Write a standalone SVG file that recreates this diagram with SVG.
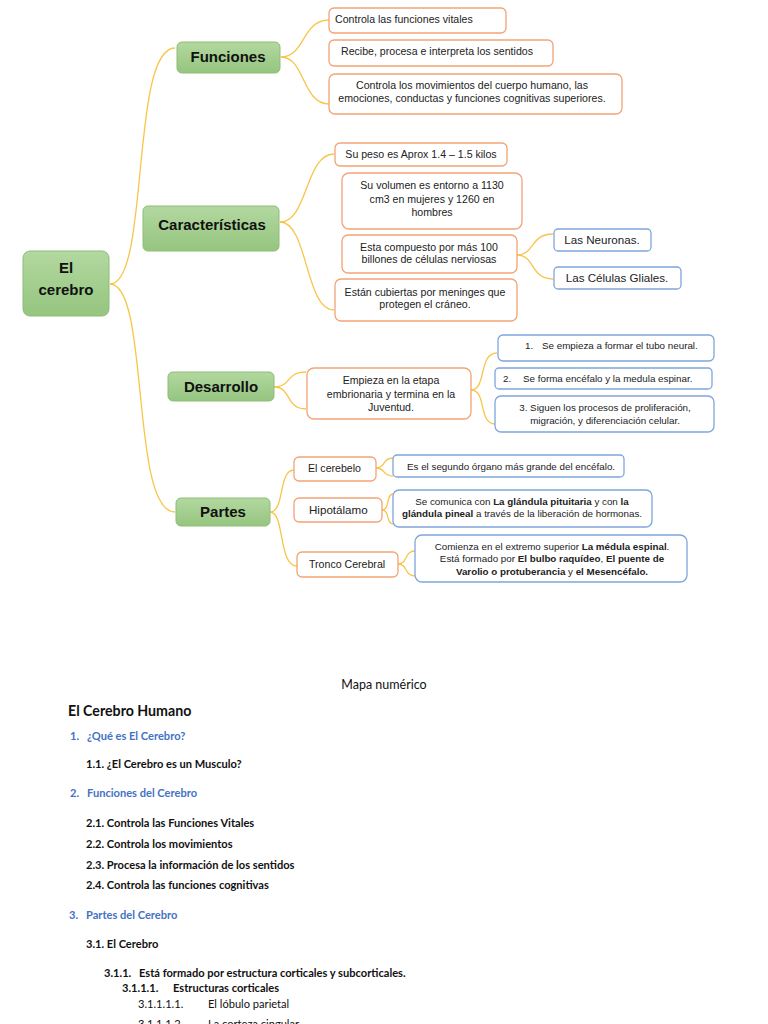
<svg xmlns="http://www.w3.org/2000/svg" width="768" height="1024" viewBox="0 0 768 1024">
<defs>
<linearGradient id="g" x1="0" y1="0" x2="0" y2="1">
<stop offset="0" stop-color="#b3d8a0"/>
<stop offset="1" stop-color="#95c57f"/>
</linearGradient>
<style>
.gn{fill:url(#g);stroke:#8dbd77;stroke-width:1}
.ob{fill:#fff;stroke:#f2a476;stroke-width:1.3}
.bb{fill:#fff;stroke:#7fa5dc;stroke-width:1.3}
.c{fill:none;stroke:#f8c54a;stroke-width:1.3}
.h{font-family:"Liberation Sans",Arial,sans-serif;font-weight:bold;font-size:15px;fill:#111;text-anchor:middle}
.t{font-family:"Liberation Sans",Arial,sans-serif;font-size:10.6px;fill:#222}
.ts{font-family:"Liberation Sans",Arial,sans-serif;font-size:9.8px;fill:#222}
.tm{text-anchor:middle}
.tl{font-family:"Liberation Sans",Arial,sans-serif;font-size:11.6px;fill:#222}
.b{font-weight:bold}
.d{font-family:Lato,"Liberation Sans",sans-serif;fill:#111;font-size:11.1px;font-weight:bold}
.big{font-size:14.2px}
.bl{fill:#4472c4}
.r{font-weight:normal}
</style>
</defs>
<rect width="768" height="1024" fill="#fff"/>

<g id="connectors">
<path class="c" d="M110,284 C150,284 130,48 175,48"/>
<path class="c" d="M110,284 C150,284 130,512 175,512"/>
<path class="c" d="M281,57 C305,57 302,20 329,20"/>
<path class="c" d="M281,57 C305,57 302,104 329,104"/>
<path class="c" d="M280,222 C308,222 305,154 334,154"/>
<path class="c" d="M280,222 C308,222 305,310 334,310"/>
<path class="c" d="M517,255 C535,255 530,234 553,234"/>
<path class="c" d="M517,255 C535,255 530,279 553,279"/>
<path class="c" d="M274,387 C292,387 285,372 306,372"/>
<path class="c" d="M274,387 C292,387 285,409 306,409"/>
<path class="c" d="M471,390 C487,390 478,353 497,353"/>
<path class="c" d="M471,390 C487,390 478,424 495,424"/>
<path class="c" d="M270,512 C285,512 278,470 294,470"/>
<path class="c" d="M270,512 C285,512 278,566 297,566"/>
<path class="c" d="M376,468 C386,468 382,458 393,458"/>
<path class="c" d="M376,468 C386,468 382,476 393,476"/>
<path class="c" d="M382,510 C390,510 386,494 393,494"/>
<path class="c" d="M382,510 C390,510 386,524 393,524"/>
<path class="c" d="M398,564 C408,564 404,551 415,551"/>
<path class="c" d="M398,564 C408,564 404,576 415,576"/>
</g>

<g id="el-cerebro">
<rect class="gn" x="23" y="251" width="86" height="65" rx="7"/>
<text class="h" x="66" y="273">El</text>
<text class="h" x="66" y="295">cerebro</text>
</g>
<g id="funciones">
<rect class="gn" x="177" y="42" width="103" height="31" rx="5"/>
<text class="h" x="228" y="62">Funciones</text>
</g>
<g id="caracteristicas">
<rect class="gn" x="143" y="206" width="136" height="45" rx="5"/>
<text class="h" x="212" y="230">Características</text>
</g>
<g id="desarrollo">
<rect class="gn" x="168" y="372" width="106" height="29" rx="5"/>
<text class="h" x="221" y="392">Desarrollo</text>
</g>
<g id="partes">
<rect class="gn" x="176" y="498" width="94" height="28" rx="5"/>
<text class="h" x="223" y="517">Partes</text>
</g>

<g id="f1">
<rect class="ob" x="329" y="8" width="177" height="25" rx="5"/>
<text class="t" x="335" y="23">Controla las funciones vitales</text>
</g>
<g id="f2">
<rect class="ob" x="329" y="40" width="224" height="26" rx="5"/>
<text class="t" x="341" y="55">Recibe, procesa e interpreta los sentidos</text>
</g>
<g id="f3">
<rect class="ob" x="329" y="74" width="293" height="40" rx="6"/>
<text class="t tm" x="472" y="89">Controla los movimientos del cuerpo humano, las</text>
<text class="t tm" x="472" y="102">emociones, conductas y funciones cognitivas superiores.</text>
</g>

<g id="c1">
<rect class="ob" x="335" y="143" width="172" height="23" rx="5"/>
<text class="t tm" x="421" y="158">Su peso es Aprox 1.4 – 1.5 kilos</text>
</g>
<g id="c2">
<rect class="ob" x="342" y="173" width="180" height="56" rx="7"/>
<text class="t tm" x="432" y="189">Su volumen es entorno a 1130</text>
<text class="t tm" x="432" y="203">cm3 en mujeres y 1260 en</text>
<text class="t tm" x="432" y="216">hombres</text>
</g>
<g id="c3">
<rect class="ob" x="342" y="235" width="175" height="38" rx="6"/>
<text class="t tm" x="429" y="251">Esta compuesto por más 100</text>
<text class="t tm" x="429" y="263">billones de células nerviosas</text>
</g>
<g id="c4">
<rect class="ob" x="335" y="279" width="182" height="42" rx="6"/>
<text class="t tm" x="425" y="296">Están cubiertas por meninges que</text>
<text class="t tm" x="425" y="308">protegen el cráneo.</text>
</g>
<g id="neuronas">
<rect class="bb" x="554" y="229" width="97" height="22" rx="4"/>
<text class="tl tm" x="602" y="244">Las Neuronas.</text>
</g>
<g id="gliales">
<rect class="bb" x="554" y="267" width="127" height="22" rx="4"/>
<text class="tl tm" x="617" y="282">Las Células Gliales.</text>
</g>

<g id="d1">
<rect class="ob" x="307" y="368" width="164" height="51" rx="7"/>
<text class="t tm" x="391" y="384">Empieza en la etapa</text>
<text class="t tm" x="391" y="398">embrionaria y termina en la</text>
<text class="t tm" x="391" y="411">Juventud.</text>
</g>
<g id="d11">
<rect class="bb" x="498" y="335" width="216" height="26" rx="5"/>
<text class="ts" x="525" y="349">1.<tspan x="542">Se empieza a formar el tubo neural.</tspan></text>
</g>
<g id="d12">
<rect class="bb" x="495" y="368" width="217" height="21" rx="4"/>
<text class="ts" x="503" y="382">2.<tspan x="523">Se forma encéfalo y la medula espinar.</tspan></text>
</g>
<g id="d13">
<rect class="bb" x="495" y="396" width="219" height="36" rx="6"/>
<text class="ts tm" x="605" y="411">3. Siguen los procesos de proliferación,</text>
<text class="ts tm" x="605" y="424">migración, y diferenciación celular.</text>
</g>

<g id="p1">
<rect class="ob" x="294" y="457" width="82" height="24" rx="5"/>
<text class="t" x="308" y="472">El cerebelo</text>
</g>
<g id="p2">
<rect class="ob" x="294" y="498" width="88" height="24" rx="5"/>
<text class="tl" x="309" y="514">Hipotálamo</text>
</g>
<g id="p3">
<rect class="ob" x="297" y="552" width="101" height="25" rx="5"/>
<text class="t" x="309" y="568">Tronco Cerebral</text>
</g>
<g id="p11">
<rect class="bb" x="393" y="455" width="231" height="22" rx="4"/>
<text class="ts" x="407" y="470">Es el segundo órgano más grande del encéfalo.</text>
</g>
<g id="p21">
<rect class="bb" x="393" y="490" width="259" height="37" rx="6"/>
<text class="ts tm" x="522" y="505">Se comunica con <tspan class="b">La glándula pituitaria</tspan> y con <tspan class="b">la</tspan></text>
<text class="ts tm" x="522" y="517"><tspan class="b">glándula pineal</tspan> a través de la liberación de hormonas.</text>
</g>
<g id="p31">
<rect class="bb" x="415" y="535" width="272" height="47" rx="7"/>
<text class="ts tm" x="552" y="550">Comienza en el extremo superior <tspan class="b">La médula espinal</tspan>.</text>
<text class="ts tm" x="552" y="562">Está formado por <tspan class="b">El bulbo raquídeo</tspan>, <tspan class="b">El puente de</tspan></text>
<text class="ts tm" x="552" y="575"><tspan class="b">Varolio o protuberancia</tspan> y <tspan class="b">el Mesencéfalo.</tspan></text>
</g>

<g id="mapa-numerico">
<text x="384" y="689" font-family="Lato,'Liberation Sans',sans-serif" font-size="12.5" fill="#111" text-anchor="middle">Mapa numérico</text>
<text class="d big" x="68" y="716">El Cerebro Humano</text>
<text class="d bl" x="70" y="740">1.<tspan x="87">¿Qué es El Cerebro?</tspan></text>
<text class="d" x="86" y="768">1.1. ¿El Cerebro es un Musculo?</text>
<text class="d bl" x="70" y="797">2.<tspan x="87">Funciones del Cerebro</tspan></text>
<text class="d" x="86" y="827">2.1. Controla las Funciones Vitales</text>
<text class="d" x="86" y="848">2.2. Controla los movimientos</text>
<text class="d" x="86" y="869">2.3. Procesa la información de los sentidos</text>
<text class="d" x="86" y="889">2.4. Controla las funciones cognitivas</text>
<text class="d bl" x="69" y="919">3.<tspan x="86">Partes del Cerebro</tspan></text>
<text class="d" x="86" y="948">3.1. El Cerebro</text>
<text class="d" x="104" y="977">3.1.1.<tspan x="139">Está formado por estructura corticales y subcorticales.</tspan></text>
<text class="d" x="122" y="992">3.1.1.1.<tspan x="173">Estructuras corticales</tspan></text>
<text class="d r" x="138" y="1008">3.1.1.1.1.<tspan x="208">El lóbulo parietal</tspan></text>
<text class="d r" x="138" y="1028">3.1.1.1.2.<tspan x="208">La corteza cingular</tspan></text>
</g>
</svg>
